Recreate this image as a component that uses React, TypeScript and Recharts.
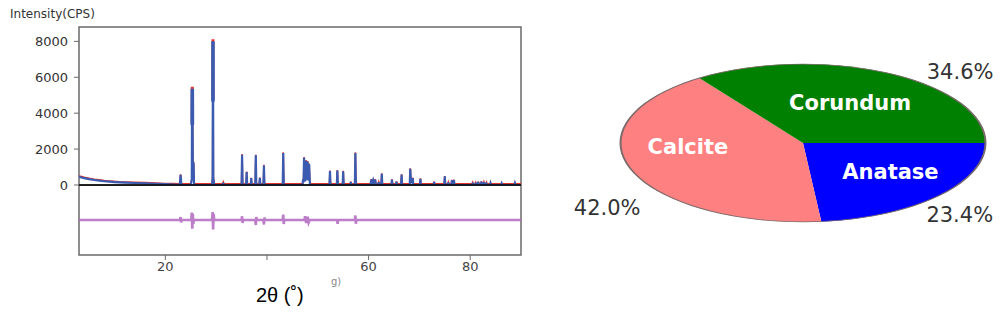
import React from 'react';
import { ComposedChart, Line, XAxis, YAxis, ReferenceArea, PieChart, Pie, Cell } from 'recharts';

// XRD pattern: [2θ (deg), calculated CPS, observed CPS]
const pattern: [number, number, number][] = [
  [3.0, 460, 500], [3.5, 420, 470], [4.0, 385, 430], [5.0, 325, 370], [6.0, 280, 320],
  [7.0, 240, 285], [8.0, 210, 250], [9.0, 185, 225], [10.0, 165, 200], [11.0, 148, 185],
  [12.0, 133, 170], [14.0, 110, 150], [16.0, 90, 130], [18.0, 70, 110], [20.0, 45, 85],
  [21.5, 25, 75], [22.85, 15, 70], [23.0, 560, 600], [23.15, 10, 70], [25.0, 0, 70],
  [25.2, 300, 340], [25.24, 3300, 3400], [25.14, 3400, 3500], [25.16, 5300, 5430],
  [25.44, 5300, 5430], [25.46, 3400, 3500], [25.36, 3300, 3400], [25.42, 500, 540],
  [25.55, 1250, 1290], [25.65, 0, 70],
  [29.2, 0, 70], [29.3, 400, 430], [29.34, 4600, 4700], [29.22, 4700, 4800], [29.24, 7950, 8080],
  [29.5, 7950, 8080], [29.52, 4700, 4800], [29.4, 4600, 4700], [29.44, 400, 430], [29.6, 0, 70],
  [31.3, 0, 70], [31.4, 130, 160], [31.5, 0, 70],
  [35.0, 0, 70], [35.1, 1690, 1730], [35.2, 0, 70],
  [35.9, 0, 70], [36.0, 720, 750], [36.1, 0, 70],
  [36.8, 0, 70], [36.9, 380, 400], [37.0, 0, 70],
  [37.7, 0, 70], [37.8, 1650, 1690], [37.9, 0, 70],
  [38.5, 0, 70], [38.6, 400, 420], [38.7, 0, 70],
  [39.3, 0, 70], [39.4, 1090, 1120], [39.5, 0, 70],
  [43.1, 0, 70], [43.2, 1780, 1830], [43.3, 0, 70],
  [47.0, 0, 70], [47.1, 300, 320], [47.2, 150, 180], [47.3, 1520, 1560], [47.45, 200, 230],
  [47.7, 1350, 1390], [47.85, 250, 280], [48.0, 1300, 1340], [48.15, 250, 280],
  [48.3, 1170, 1200], [48.45, 0, 70],
  [52.3, 0, 70], [52.4, 780, 810], [52.5, 0, 70],
  [53.75, 0, 70], [53.85, 800, 830], [53.95, 0, 70],
  [54.9, 0, 70], [55.0, 760, 790], [55.1, 0, 70],
  [56.4, 0, 70], [56.5, 170, 190], [56.6, 0, 70],
  [57.3, 0, 70], [57.4, 1780, 1820], [57.5, 0, 70],
  [60.4, 0, 70], [60.5, 300, 320], [60.7, 60, 90], [60.9, 260, 280], [61.1, 60, 90],
  [61.3, 300, 320], [61.45, 0, 70],
  [61.9, 0, 70], [62.0, 150, 170], [62.1, 0, 70],
  [62.5, 0, 70], [62.6, 620, 650], [62.7, 0, 70],
  [64.5, 0, 70], [64.6, 300, 320], [64.7, 0, 70],
  [65.4, 0, 70], [65.5, 190, 200], [65.6, 0, 70],
  [66.4, 0, 70], [66.5, 580, 600], [66.6, 0, 70],
  [68.1, 0, 70], [68.2, 900, 930], [68.35, 100, 130], [68.7, 380, 400], [68.8, 0, 70],
  [70.1, 0, 70], [70.2, 350, 370], [70.3, 0, 70],
  [72.8, 0, 70], [72.9, 170, 190], [73.0, 0, 70],
  [74.9, 0, 70], [75.0, 480, 500], [75.1, 0, 70],
  [75.6, 0, 70], [75.7, 140, 160], [75.8, 0, 70],
  [76.3, 0, 70], [76.4, 260, 280], [76.6, 80, 110], [76.8, 270, 290], [76.9, 0, 70],
  [80.4, 0, 70], [80.5, 130, 150], [80.6, 0, 70],
  [81.0, 0, 70], [81.1, 120, 140], [81.2, 0, 70],
  [81.5, 0, 70], [81.6, 170, 190], [81.7, 0, 70],
  [82.1, 0, 70], [82.2, 180, 200], [82.3, 0, 70],
  [82.6, 0, 70], [82.7, 150, 170], [82.8, 0, 70],
  [83.1, 0, 70], [83.2, 130, 150], [83.3, 0, 70],
  [83.9, 0, 70], [84.0, 100, 120], [84.1, 0, 70],
  [86.1, 0, 70], [86.2, 80, 100], [86.3, 0, 70],
  [88.7, 0, 70], [88.8, 100, 120], [88.9, 0, 70],
  [90.0, 0, 70],
];

// difference curve: [2θ, obs - calc]
const residual: [number, number][] = [
  [3, 0], [22.9, 0], [23.0, 120], [23.1, -100], [23.2, 0],
  [25.1, 0], [25.2, 300], [25.3, -350], [25.4, 250], [25.5, -150], [25.6, 0],
  [29.2, 0], [29.3, 320], [29.4, -380], [29.5, 250], [29.6, 0],
  [35.0, 0], [35.1, 150], [35.2, -120], [35.3, 0],
  [37.7, 0], [37.8, -200], [37.9, 120], [38.0, 0],
  [39.3, 0], [39.4, -180], [39.5, 100], [39.6, 0],
  [43.1, 0], [43.2, 220], [43.3, -160], [43.4, 0],
  [47.4, 0], [47.5, 150], [47.7, -120], [48.0, 130], [48.2, -100], [48.4, 0],
  [53.8, 0], [53.9, -150], [54.0, 0],
  [57.3, 0], [57.4, 180], [57.5, -150], [57.6, 0],
  [90, 0],
];

const intensityTicks = [0, 2000, 4000, 6000, 8000];
const residualTicks = [-1000, 0, 1000];
const angleTicks = [20, 40, 60, 80];

const phaseNames = ['Anatase', 'Calcite', 'Corundum'];
const phasePct = [23.4, 42.0, 34.6];
const phaseColors = ['#0000ff', '#ff8080', '#008000'];

const patternData = pattern.map(([t, calc, obs]) => ({ t, calc, obs }));
const residualData = residual.map(([t, d]) => ({ t, d }));
const phaseData = phaseNames.map((name, i) => ({ name, pct: phasePct[i] }));
const ringData = [{ v: 1 }];

const AXIS_FONT = 'DejaVu Sans, Verdana, sans-serif';
const FRAME = '#6a6a6a';

// the pie is drawn round and squashed vertically
const K = 0.432;
const RAD = Math.PI / 180;
// label nudges in screen pixels, per slice
const innerNudge = [[6, -3], [-12, -12], [-4, 2]];
const outerNudge = [[21, 19], [-24, 38], [72, -1]];

const PhaseLabel = (props: any) => {
  const { cx, cy, midAngle, outerRadius, index } = props;
  const c = Math.cos(midAngle * RAD);
  const s = Math.sin(midAngle * RAD);
  const ix = cx + outerRadius * 0.6 * c + innerNudge[index][0];
  const iy = cy - outerRadius * 0.6 * s + innerNudge[index][1] / K;
  const ox = cx + outerRadius * c + outerNudge[index][0];
  const oy = cy - outerRadius * s + outerNudge[index][1] / K;
  return (
    <g>
      <g transform={`translate(${ix},${iy}) scale(1,${1 / K})`}>
        <text textAnchor="middle" dominantBaseline="central" fill="#ffffff" fontSize={21}
          fontWeight="bold" fontFamily={AXIS_FONT}>{phaseNames[index]}</text>
      </g>
      <g transform={`translate(${ox},${oy}) scale(1,${1 / K})`}>
        <text textAnchor="middle" dominantBaseline="central" fill="#333333" fontSize={21}
          fontFamily={AXIS_FONT}>{phasePct[index].toFixed(1)}%</text>
      </g>
    </g>
  );
};

export default function App() {
  return (
    <div style={{ position: 'absolute', left: 0, top: 0, width: 1008, height: 316, overflow: 'hidden', background: '#fff' }}>
      {/* difference panel */}
      <div style={{ position: 'absolute', left: 0, top: 185 }}>
        <ComposedChart width={540} height={131} data={residualData} margin={{ top: 0, right: 19, bottom: 31, left: 0 }}>
          <ReferenceArea x1={3} x2={90} y1={-1400} y2={1400} fill="none" stroke={FRAME} strokeWidth={1.5} />
          <XAxis type="number" dataKey="t" domain={[3, 90]} ticks={angleTicks} allowDataOverflow interval={0}
            tickFormatter={(v: number) => (v === 40 ? '' : String(v))}
            axisLine={false} tickLine={{ stroke: FRAME }} tickSize={5} height={30}
            tick={{ fontSize: 13, fill: '#444', fontFamily: AXIS_FONT }} />
          <YAxis type="number" domain={[-1400, 1400]} ticks={residualTicks} tick={false} width={79} interval={0}
            axisLine={false} tickLine={{ stroke: FRAME }} tickSize={5} />
          <Line type="linear" dataKey="d" stroke="#b066c0" strokeWidth={2.6} strokeOpacity={0.85}
            dot={false} isAnimationActive={false} />
        </ComposedChart>
      </div>

      {/* intensity panel */}
      <div style={{ position: 'absolute', left: 0, top: 0 }}>
        <ComposedChart width={540} height={202} data={patternData} margin={{ top: 27, right: 19, bottom: 16, left: 0 }}>
          <ReferenceArea x1={3} x2={90} y1={0} y2={8800} fill="none" stroke={FRAME} strokeWidth={1.5} />
          <YAxis type="number" domain={[0, 8800]} ticks={intensityTicks} width={79} allowDataOverflow interval={0}
            axisLine={false} tickLine={{ stroke: FRAME }} tickSize={5} tickMargin={6}
            tick={{ fontSize: 13, fill: '#333', fontFamily: AXIS_FONT }} />
          <Line type="linear" dataKey="obs" stroke="#e2342c" strokeWidth={1.6}
            dot={false} isAnimationActive={false} />
          <Line type="linear" dataKey="calc" stroke="#3a5bb0" strokeWidth={2.2}
            dot={false} isAnimationActive={false} />
          <XAxis type="number" dataKey="t" domain={[3, 90]} allowDataOverflow ticks={[]} tick={false}
            tickLine={false} axisLine={{ stroke: '#000', strokeWidth: 1.5 }} height={1} />
        </ComposedChart>
      </div>

      <div style={{ position: 'absolute', left: 10, top: 7, fontFamily: AXIS_FONT, fontSize: 12, lineHeight: '14px', color: '#333' }}>
        Intensity(CPS)
      </div>
      <div style={{ position: 'absolute', left: 331, top: 276, fontFamily: AXIS_FONT, fontSize: 10, lineHeight: '11px', color: '#888' }}>
        g)
      </div>
      <div style={{ position: 'absolute', left: 256, top: 285, fontFamily: 'Liberation Sans, Arial, sans-serif', fontSize: 20, lineHeight: '20px', color: '#000' }}>
        2θ (˚)
      </div>

      {/* phase composition pie, squashed into an ellipse */}
      <div style={{ position: 'absolute', left: 803 - 250, top: 143 - 200, width: 500, height: 400, transform: `scaleY(${K})`, transformOrigin: '250px 200px' }}>
        <PieChart width={500} height={400} margin={{ top: 0, right: 0, bottom: 0, left: 0 }}>
          <Pie data={phaseData} dataKey="pct" nameKey="name" cx={250} cy={200} outerRadius={183}
            startAngle={0} endAngle={-360} stroke="none" label={PhaseLabel} labelLine={false}
            isAnimationActive={false}>
            {phaseData.map((d, i) => (
              <Cell key={d.name} fill={phaseColors[i]} />
            ))}
          </Pie>
          <Pie data={ringData} dataKey="v" cx={250} cy={200} innerRadius={181.5} outerRadius={183.5}
            startAngle={0} endAngle={-360} fill="#7a6a6a" stroke="none" isAnimationActive={false} />
        </PieChart>
      </div>
    </div>
  );
}
